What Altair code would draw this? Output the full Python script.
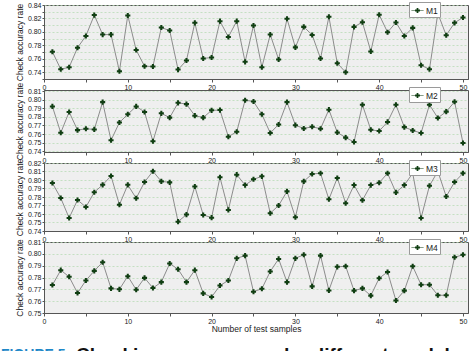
import altair as alt
import pandas as pd

samples = list(range(1, 51))
models = ["M1", "M2", "M3", "M4"]

m1 = [0.7705, 0.7445, 0.7475, 0.7765, 0.794, 0.825, 0.796, 0.796, 0.7415, 0.8245,
      0.773, 0.749, 0.7485, 0.8065, 0.802, 0.744, 0.7575, 0.8135, 0.7605, 0.762,
      0.816, 0.7925, 0.816, 0.7555, 0.8095, 0.7475, 0.796, 0.759, 0.8195, 0.777,
      0.8075, 0.7955, 0.7605, 0.8225, 0.7535, 0.740, 0.8075, 0.8145, 0.771, 0.8255,
      0.7995, 0.814, 0.794, 0.806, 0.7505, 0.7445, 0.8275, 0.795, 0.8135, 0.8215]

m2 = [0.7923, 0.7615, 0.7858, 0.7646, 0.7662, 0.7654, 0.7973, 0.7527, 0.7735, 0.7831,
      0.7923, 0.7858, 0.7515, 0.7842, 0.7792, 0.7965, 0.795, 0.7815, 0.7792, 0.7877,
      0.788, 0.7569, 0.7627, 0.7996, 0.798, 0.7831, 0.7612, 0.7712, 0.7973, 0.7704,
      0.7665, 0.7685, 0.7662, 0.7885, 0.7619, 0.7558, 0.7508, 0.7942, 0.765, 0.7635,
      0.7742, 0.7942, 0.7681, 0.7642, 0.7612, 0.7942, 0.7788, 0.7862, 0.7977, 0.7496]

m3 = [0.7964, 0.7788, 0.7553, 0.7765, 0.7682, 0.7856, 0.7943, 0.8047, 0.7709, 0.7943,
      0.7785, 0.7976, 0.8103, 0.7984, 0.7972, 0.7510, 0.7593, 0.7923, 0.7589, 0.7557,
      0.8032, 0.7648, 0.8063, 0.7940, 0.8008, 0.8043, 0.7609, 0.7700, 0.7866, 0.7561,
      0.7984, 0.8071, 0.8079, 0.7773, 0.8024, 0.7727, 0.7940, 0.7761, 0.7940, 0.7968,
      0.8079, 0.7854, 0.7940, 0.8079, 0.7553, 0.7932, 0.8103, 0.7806, 0.7976, 0.8079]

m4 = [0.7736, 0.7862, 0.7806, 0.7669, 0.7775, 0.7856, 0.7929, 0.7708, 0.7700, 0.7811,
      0.7697, 0.7797, 0.7711, 0.7761, 0.7918, 0.7870, 0.7761, 0.7862, 0.7666, 0.7635,
      0.7732, 0.7775, 0.7962, 0.7985, 0.7680, 0.7705, 0.7851, 0.7957, 0.7761, 0.7962,
      0.7992, 0.7725, 0.7985, 0.7691, 0.7890, 0.7895, 0.7689, 0.7708, 0.7647, 0.7794,
      0.7847, 0.7606, 0.7689, 0.7895, 0.7739, 0.7739, 0.7650, 0.7650, 0.7971, 0.7992]

x_ticks = [0, 5, 10, 15, 20, 25, 30, 35, 40, 45, 50]
y_ticks_m1 = [0.73, 0.74, 0.75, 0.76, 0.77, 0.78, 0.79, 0.80, 0.81, 0.82, 0.83, 0.84]
y_ticks_m2 = [0.74, 0.75, 0.76, 0.77, 0.78, 0.79, 0.80, 0.81]
y_ticks_m3 = [0.74, 0.75, 0.76, 0.77, 0.78, 0.79, 0.80, 0.81, 0.82]
y_ticks_m4 = [0.75, 0.76, 0.77, 0.78, 0.79, 0.80, 0.81]

y_label = "Check accuracy rate"
x_label = "Number of test samples"
caption_tag = "FIGURE 5"
caption_text = "Checking accuracy under different models"

series = {"M1": m1, "M2": m2, "M3": m3, "M4": m4}
y_ticks = {"M1": y_ticks_m1, "M2": y_ticks_m2, "M3": y_ticks_m3, "M4": y_ticks_m4}
y_domains = {"M1": [0.73, 0.84], "M2": [0.739, 0.8115], "M3": [0.74, 0.82], "M4": [0.75, 0.81]}
heights = {"M1": 74, "M2": 62, "M3": 68, "M4": 71}

df = pd.DataFrame({
    "sample": samples * 4,
    "value": m1 + m2 + m3 + m4,
    "model": sum([[m] * 50 for m in models], []),
})

FONT = "Liberation Sans"
GREEN = "#103e12"
LINE = "#8c8c8c"
LEGEND_SYMBOL = ("M-1,-0.05H-0.4V-0.15H-0.14V-0.4H0.14V-0.15H0.4V-0.05H1V0.05"
                 "H0.4V0.15H0.14V0.4H-0.14V0.15H-0.4V0.05H-1Z")


def panel(name, last):
    d = df[df["model"] == name]
    if last:
        xaxis = alt.Axis(values=x_ticks, labelExpr="datum.value % 10 == 0 ? datum.label : ''",
                         labelFlush=False, grid=False, tickSize=3, labelPadding=1,
                         title=x_label, titlePadding=0)
    else:
        xaxis = alt.Axis(values=x_ticks, labelExpr="datum.value % 10 == 0 ? datum.label : ''",
                         labelFlush=False, grid=False, tickSize=3, labelPadding=1, title=None)
    if name == "M1":
        ylabel_expr = "round(datum.value * 100) % 2 == 0 ? datum.label : ''"
    else:
        ylabel_expr = "datum.label"
    x = alt.X("sample:Q", scale=alt.Scale(domain=[0, 50.6], nice=False, zero=False), axis=xaxis)
    y = alt.Y("value:Q", scale=alt.Scale(domain=y_domains[name], nice=False, zero=False),
              axis=alt.Axis(values=y_ticks[name], format=".2f", labelExpr=ylabel_expr,
                            title=y_label, tickSize=2, labelPadding=1, titlePadding=3,
                            grid=True, gridColor="#b9dcb6", gridDash=[2, 2], gridWidth=0.8,
                            labelOverlap=False))
    base = alt.Chart(d)
    line = base.mark_line(color=LINE, strokeWidth=1).encode(x=x, y=y)
    pts = base.mark_point(shape="cross", filled=True, size=26, opacity=1).encode(
        x=x, y=y,
        color=alt.Color("model:N", scale=alt.Scale(domain=[name], range=[GREEN]),
                        legend=alt.Legend(title=None, orient="none", legendX=365, legendY=-3,
                                          fillColor="white", strokeColor="#9a9a9a", padding=2,
                                          symbolType=LEGEND_SYMBOL, symbolSize=150,
                                          symbolStrokeWidth=0, labelFontSize=8.5,
                                          labelFont=FONT, labelColor="#222222",
                                          labelOffset=2)))
    layers = [line, pts]
    if last:
        cap1 = alt.Chart(pd.DataFrame({"t": [caption_tag]})).mark_text(
            align="left", baseline="top", font=FONT, fontSize=14, fontWeight="bold",
            color="#1f88c8").encode(text="t:N", x=alt.value(-43), y=alt.value(106))
        cap2 = alt.Chart(pd.DataFrame({"t": [caption_text]})).mark_text(
            align="left", baseline="top", font=FONT, fontSize=19, fontWeight="bold",
            color="#111111").encode(text="t:N", x=alt.value(32), y=alt.value(104))
        layers += [cap1, cap2]
    return alt.layer(*layers).properties(width=424, height=heights[name])


chart = alt.vconcat(
    panel("M1", False), panel("M2", False), panel("M3", False), panel("M4", True),
    spacing=11, bounds="flush"
).resolve_scale(color="independent", y="independent").resolve_legend(
    color="independent"
).properties(
    padding={"left": 0, "top": 0, "right": 0, "bottom": 0}
).configure_view(
    fill="#efefef", stroke="#555555", strokeWidth=1
).configure_axis(
    labelFont=FONT, labelFontSize=7, labelColor="#222222",
    titleFont=FONT, titleFontSize=8.5, titleFontWeight="normal", titleColor="#222222",
    domainColor="#555555", tickColor="#555555"
)

chart.save("out.html", embed_options={"renderer": "svg", "actions": False})
